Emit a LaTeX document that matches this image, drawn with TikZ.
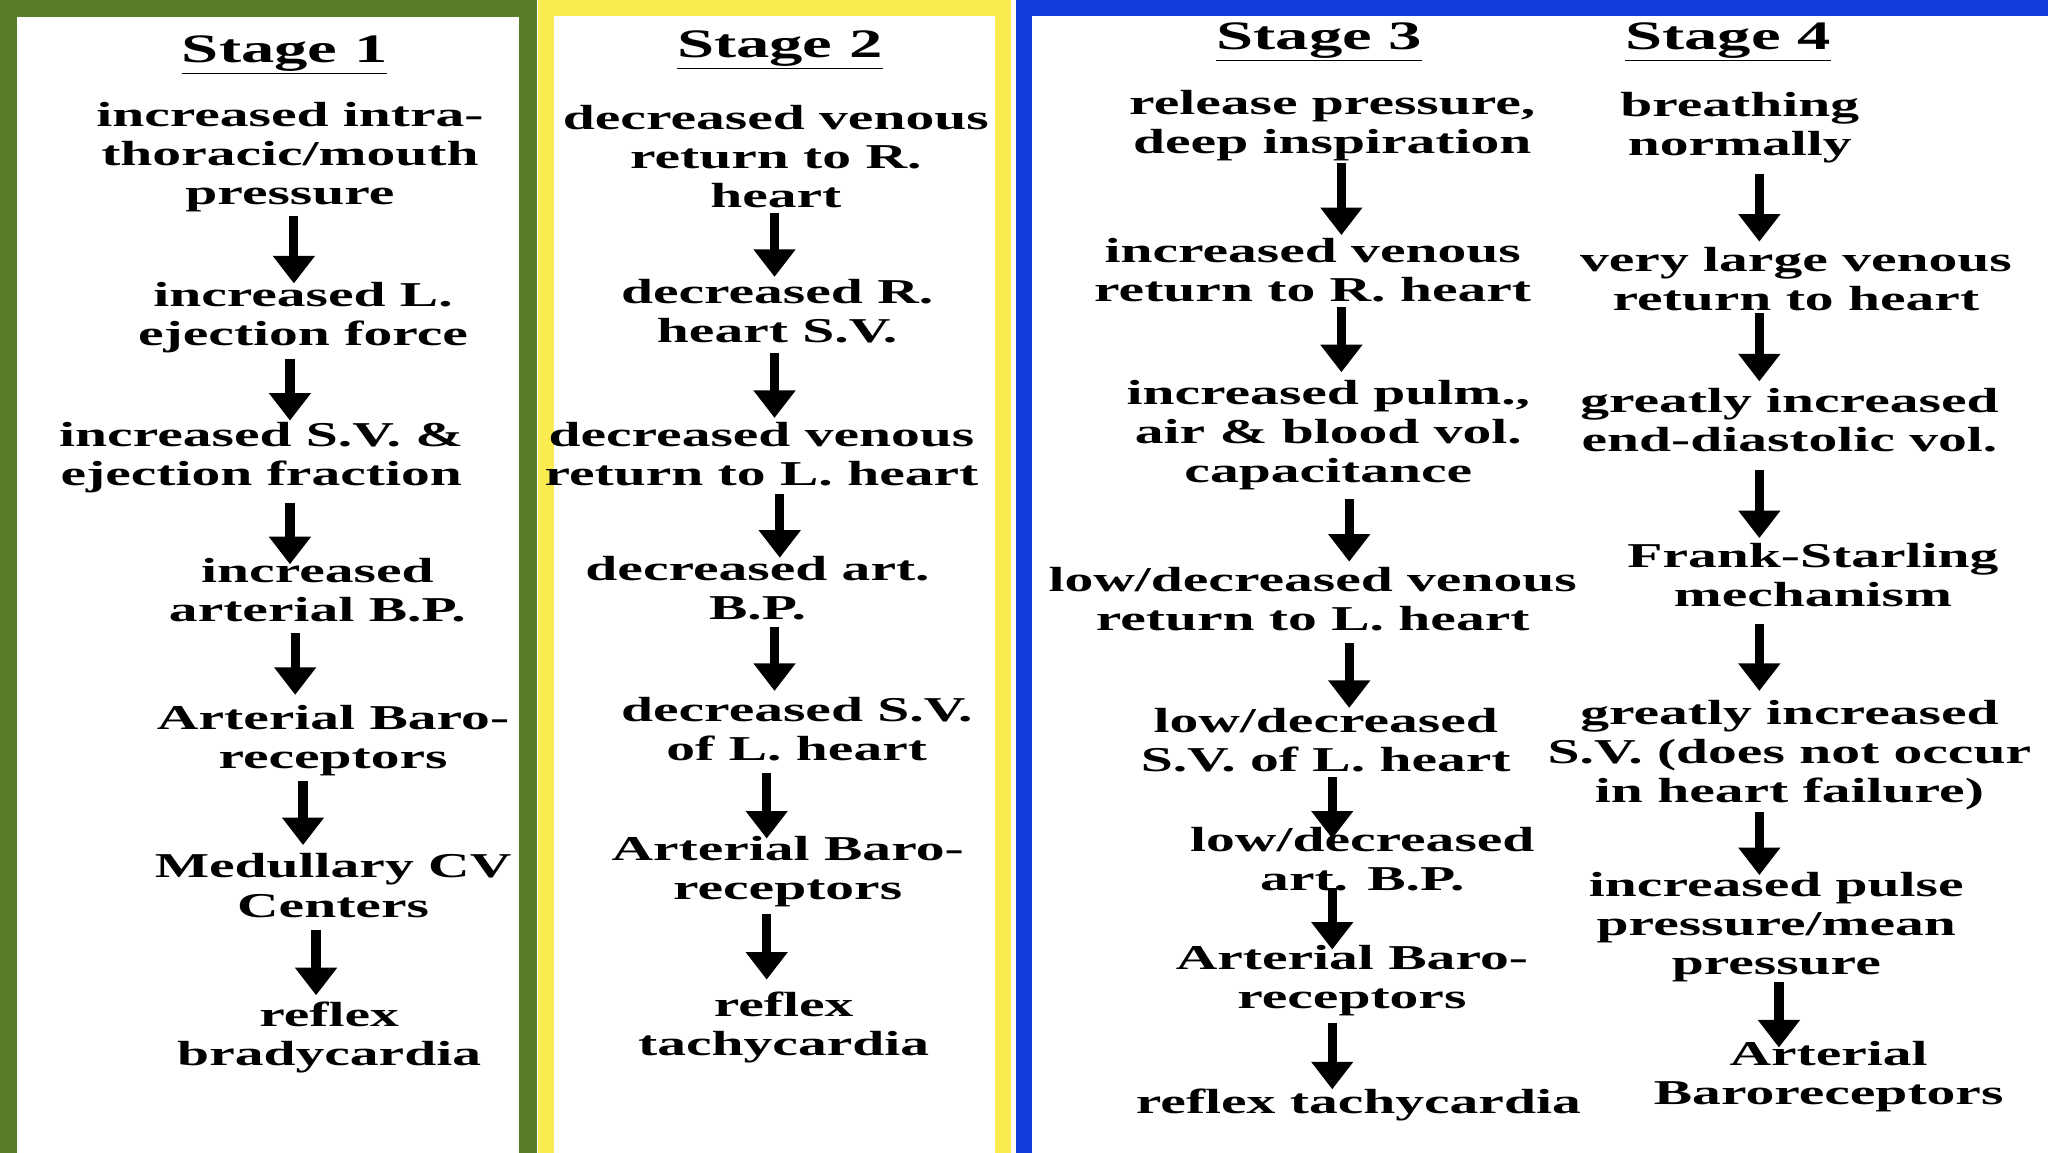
\documentclass[tikz,border=0pt]{standalone}
\usepackage{fontspec}
\setmainfont{Liberation Serif}[FakeStretch=1.65]
\usetikzlibrary{arrows.meta}
\definecolor{gr}{RGB}{90,125,40}
\definecolor{ye}{RGB}{250,235,80}
\definecolor{bl}{RGB}{20,60,220}
\tikzset{
 t/.style={align=center,font=\fontsize{38}{42.5}\selectfont\bfseries,inner sep=0pt},
 h/.style={font=\fontsize{44}{48}\selectfont\bfseries,inner sep=0pt},
 arr/.style={line width=10pt,-{Triangle[length=30pt,width=44pt]}}
}
\begin{document}
\begin{tikzpicture}[x=0.05cm,y=-0.05cm]
\useasboundingbox (0,0) rectangle (1568,882);
\fill[white] (0,0) rectangle (1568,882);
\draw[gr,line width=20pt] (6,6) rectangle (404,890);
\draw[ye,line width=18pt] (418,6) rectangle (768,890);
\draw[bl,line width=18pt] (784,6) rectangle (1580,890);
% headers
\node[h] (h1) at (218,42) {\underline{Stage 1}};
\node[h] (h2) at (597,38) {\underline{Stage 2}};
\node[h] (h3) at (1010,32) {\underline{Stage 3}};
\node[h] (h4) at (1323,32) {\underline{Stage 4}};
% column 1
\node[t] (a1) at (222,120) {increased intra-\\thoracic/mouth\\pressure};
\node[t] (a2) at (232,243) {increased L.\\ejection force};
\node[t] (a3) at (200,350) {increased S.V. \&\\ejection fraction};
\node[t] (a4) at (243,452) {increased\\arterial B.P.};
\node[t] (a5) at (255,567) {Arterial Baro-\\receptors};
\node[t] (a6) at (255,678) {Medullary CV\\Centers};
\node[t] (a7) at (252,794) {reflex\\bradycardia};
\draw[arr] (225,165) -- (225,217);
\draw[arr] (222,275) -- (222,322);
\draw[arr] (222,385) -- (222,432);
\draw[arr] (226,485) -- (226,532);
\draw[arr] (232,598) -- (232,647);
\draw[arr] (242,712) -- (242,762);
% column 2
\node[t] (b1) at (594,120) {decreased venous\\return to R.\\heart};
\node[t] (b2) at (595,238) {decreased R.\\heart S.V.};
\node[t] (b3) at (583,348) {decreased venous\\return to L. heart};
\node[t] (b4) at (580,450) {decreased art.\\B.P.};
\node[t] (b5) at (610,558) {decreased S.V.\\of L. heart};
\node[t] (b6) at (603,667) {Arterial Baro-\\receptors};
\node[t] (b7) at (600,787) {reflex\\tachycardia};
\draw[arr] (593,163) -- (593,212);
\draw[arr] (593,270) -- (593,320);
\draw[arr] (597,378) -- (597,427);
\draw[arr] (593,480) -- (593,529);
\draw[arr] (587,592) -- (587,642);
\draw[arr] (587,700) -- (587,750);
% column 3
\node[t] (c1) at (1020,96) {release pressure,\\deep inspiration};
\node[t] (c2) at (1005,207) {increased venous\\return to R. heart};
\node[t] (c3) at (1017,333) {increased pulm.,\\air \& blood vol.\\capacitance};
\node[t] (c4) at (1005,459) {low/decreased venous\\return to L. heart};
\node[t] (c5) at (1015,567) {low/decreased\\S.V. of L. heart};
\node[t] (c6) at (1043,658) {low/decreased\\art. B.P.};
\node[t] (c7) at (1035,751) {Arterial Baro-\\receptors};
\node[t] (c8) at (1040,846) {reflex tachycardia};
\draw[arr] (1027,125) -- (1027,180);
\draw[arr] (1027,235) -- (1027,285);
\draw[arr] (1033,382) -- (1033,430);
\draw[arr] (1033,492) -- (1033,542);
\draw[arr] (1020,595) -- (1020,642);
\draw[arr] (1020,680) -- (1020,727);
\draw[arr] (1020,783) -- (1020,834);
% column 4
\node[t] (d1) at (1332,98) {breathing\\normally};
\node[t] (d2) at (1375,214) {very large venous\\return to heart};
\node[t] (d3) at (1370,322) {greatly increased\\end-diastolic vol.};
\node[t] (d4) at (1388,440) {Frank-Starling\\mechanism};
\node[t] (d5) at (1370,578) {greatly increased\\S.V. (does not occur\\in heart failure)};
\node[t] (d6) at (1360,710) {increased pulse\\pressure/mean\\pressure};
\node[t] (d7) at (1400,824) {Arterial\\Baroreceptors};
\draw[arr] (1347,133) -- (1347,185);
\draw[arr] (1347,240) -- (1347,292);
\draw[arr] (1347,360) -- (1347,412);
\draw[arr] (1347,478) -- (1347,529);
\draw[arr] (1347,622) -- (1347,670);
\draw[arr] (1362,752) -- (1362,802);
\end{tikzpicture}
\end{document}
